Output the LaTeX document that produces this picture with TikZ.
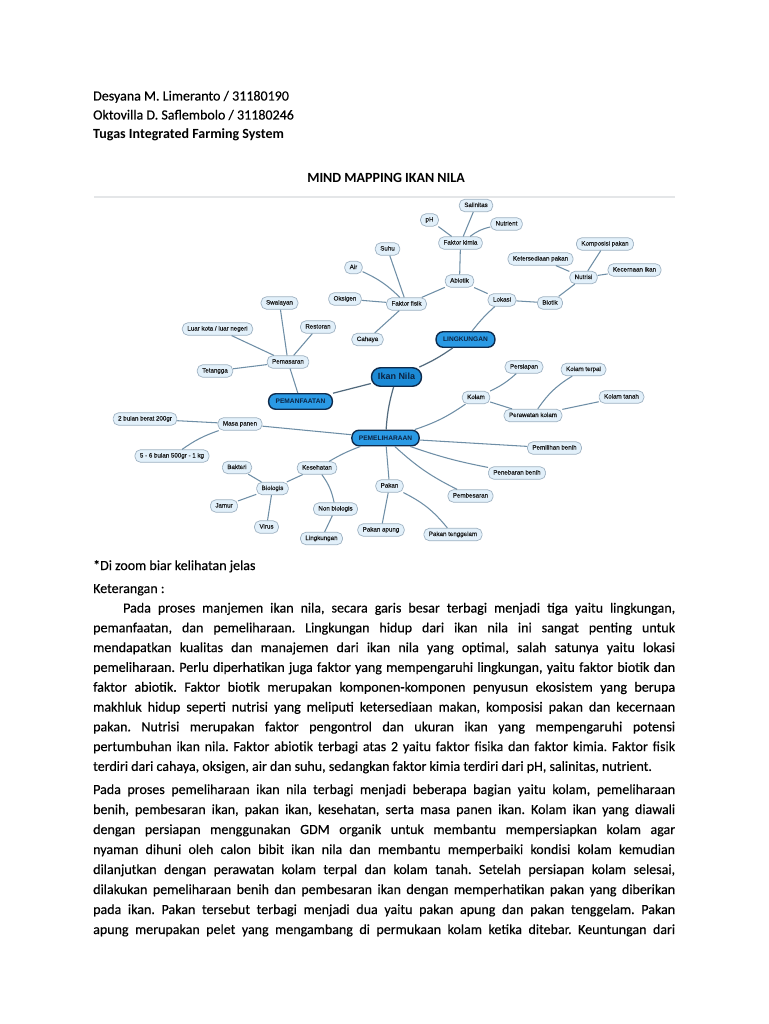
\documentclass[tikz,border=0pt]{standalone}
\usepackage{fontspec}
\setmainfont{Carlito}
\newfontfamily\bodyfont{Carlito}[FakeBold=0.3]
\newfontfamily\mapfont{Liberation Sans}[FakeBold=0.25]
\newfontfamily\mapboldfont{Liberation Sans Bold}
\definecolor{leaffill}{HTML}{E2F0FA}
\definecolor{leafborder}{HTML}{9FB2C2}
\definecolor{linkcol}{HTML}{6E8EA6}
\definecolor{mainfill}{HTML}{2A9AE5}
\definecolor{rootfill}{HTML}{1C8AD6}
\definecolor{mainborder}{HTML}{0F2B4C}
\definecolor{maintext}{HTML}{0B2342}
\definecolor{rulegray}{HTML}{E4E6E8}
\tikzset{
  leaf/.style={draw=leafborder, line width=0.7pt, fill=leaffill, rounded corners=5.5pt,
    font=\mapfont\fontsize{6.2}{7}\selectfont, text=black!90, inner xsep=5pt, inner ysep=0pt,
    minimum height=12.5pt, text height=4.6pt, text depth=1.6pt},
  mainnode/.style={draw=mainborder, line width=1.4pt, fill=mainfill, rounded corners=7pt,
    font=\mapboldfont\fontsize{6.6}{7}\selectfont, text=maintext, inner xsep=7pt, inner ysep=0pt,
    minimum height=15.5pt, text height=4.9pt, text depth=0.8pt},
  rootnode/.style={mainnode, fill=rootfill, rounded corners=9pt, font=\mapboldfont\fontsize{9}{10}\selectfont,
    minimum height=18.5pt, inner xsep=6.5pt, text height=6.6pt, text depth=0.8pt},
  link/.style={draw=linkcol, line width=1.05pt},
  mainlink/.style={draw=linkcol!75!black, line width=1.2pt},
  bodyline/.style={anchor=base west, inner sep=0pt, font=\bodyfont\fontsize{14}{16}\selectfont, text=black},
  boldline/.style={anchor=base west, inner sep=0pt, font=\fontsize{14}{16}\selectfont\bfseries, text=black},
}
\newcommand\jfull[1]{\hbox to 582pt{#1}}
\newcommand\jindent[1]{\hbox to 552pt{#1}}
\begin{document}
\frenchspacing
\begin{tikzpicture}[x=1pt,y=-1pt]
\useasboundingbox[fill=white] (0,0) rectangle (768,1024);

% header
\node[bodyline] (h1) at (93,100.5) {Desyana M. Limeranto / 31180190};
\node[bodyline] (h2) at (93,119.5) {Oktovilla D. Saflembolo / 31180246};
\node[boldline] (h3) at (93,138.5) {Tugas Integrated Farming System};
\node[boldline, anchor=base] (title) at (386,183) {MIND MAPPING IKAN NILA};

% image top rule
\coordinate (ruleL) at (94,197);
\coordinate (ruleR) at (675,197);
\draw[rulegray, line width=1.5pt] (ruleL) -- (ruleR);

% ---------- nodes ----------
\node[rootnode] (root) at (396.5,377) {Ikan Nila};
\node[mainnode] (ling) at (465.5,339.5) {LINGKUNGAN};
\node[mainnode] (pemf) at (300.5,401.5) {PEMANFAATAN};
\node[mainnode] (peml) at (385.5,438) {PEMELIHARAAN};

\node[leaf] (lok) at (502,300) {Lokasi};
\node[leaf] (abio) at (459.5,281) {Abiotik};
\node[leaf] (bio) at (550,303) {Biotik};
\node[leaf] (fk) at (460.5,243) {Faktor kimia};
\node[leaf] (ph) at (429.5,220) {pH};
\node[leaf] (sal) at (476,205.5) {Salinitas};
\node[leaf] (nut) at (506.5,224) {Nutrient};
\node[leaf] (ff) at (406.5,304) {Faktor fisik};
\node[leaf] (suhu) at (387.5,249) {Suhu};
\node[leaf] (air) at (353.5,267.5) {Air};
\node[leaf] (oks) at (345,299) {Oksigen};
\node[leaf] (cah) at (367.5,339.5) {Cahaya};
\node[leaf] (nutr) at (583.5,277.5) {Nutrisi};
\node[leaf] (ket) at (540.5,259) {Ketersediaan pakan};
\node[leaf] (komp) at (605,244) {Komposisi pakan};
\node[leaf] (kec) at (634.5,270) {Kecernaan ikan};

\node[leaf] (pemas) at (288,362) {Pemasaran};
\node[leaf] (swa) at (279.5,303) {Swalayan};
\node[leaf] (luar) at (217.5,329) {Luar kota / luar negeri};
\node[leaf] (rest) at (318,327) {Restoran};
\node[leaf] (tet) at (215,371) {Tetangga};

\node[leaf] (kolam) at (476,397.5) {Kolam};
\node[leaf] (pers) at (524,367) {Persiapan};
\node[leaf] (rawat) at (533,415.5) {Perawatan kolam};
\node[leaf] (terpal) at (583.5,369.5) {Kolam terpal};
\node[leaf] (tanah) at (621.5,397) {Kolam tanah};
\node[leaf] (pilih) at (554.5,448) {Pemilihan benih};
\node[leaf] (tebar) at (517,473) {Penebaran benih};
\node[leaf] (besar) at (470.5,496) {Pembesaran};
\node[leaf] (pakan) at (389.5,486) {Pakan};
\node[leaf] (apung) at (381,530) {Pakan apung};
\node[leaf] (tengg) at (453,534.5) {Pakan tenggelam};
\node[leaf] (panen) at (240,424) {Masa panen};
\node[leaf] (dua) at (145,419) {2 bulan berat 200gr};
\node[leaf] (lima) at (172,456) {5 - 6 bulan 500gr - 1 kg};
\node[leaf] (sehat) at (317,468) {Kesehatan};
\node[leaf] (bakt) at (237,467.5) {Bakteri};
\node[leaf] (biol) at (272.5,488.5) {Biologis};
\node[leaf] (jamur) at (224,506) {Jamur};
\node[leaf] (virus) at (266.5,527) {Virus};
\node[leaf] (nonbio) at (335.5,509) {Non biologis};
\node[leaf] (lingk) at (321.5,538.5) {Lingkungan};

% ---------- connectors ----------
\begin{scope}[on background layer/.style={}]
\draw[mainlink] (root) to[bend right=5] (ling);
\draw[mainlink] (root) -- (pemf);
\draw[mainlink] (root) to[bend right=6] (peml);

\draw[link] (ling) to[bend left=5] (lok);
\draw[link] (lok) -- (abio);
\draw[link] (lok) -- (bio);
\draw[link] (abio) -- (fk);
\draw[link] (abio) -- (ff);
\draw[link] (fk) -- (ph);
\draw[link] (fk) -- (sal);
\draw[link] (fk) to[bend left=12] (nut);
\draw[link] (ff) -- (suhu);
\draw[link] (ff) to[bend right=10] (air);
\draw[link] (ff) -- (oks);
\draw[link] (ff) -- (cah);
\draw[link] (bio) -- (nutr);
\draw[link] (nutr) -- (ket);
\draw[link] (nutr) -- (komp);
\draw[link] (nutr) -- (kec);

\draw[link] (pemf) -- (pemas);
\draw[link] (pemas) -- (swa);
\draw[link] (pemas) -- (luar);
\draw[link] (pemas) -- (rest);
\draw[link] (pemas) -- (tet);

\draw[link] (peml) to[bend right=8] (kolam);
\draw[link] (kolam) to[bend right=8] (pers);
\draw[link] (kolam) -- (rawat);
\draw[link] (rawat) to[bend left=12] (terpal);
\draw[link] (rawat) -- (tanah);
\draw[link] (peml) -- (pilih);
\draw[link] (peml) to[bend right=4] (tebar);
\draw[link] (peml) to[bend right=8] (besar);
\draw[link] (peml) -- (pakan);
\draw[link] (pakan) -- (apung);
\draw[link] (pakan) to[bend left=12] (tengg);
\draw[link] (peml) to[bend right=5] (sehat);
\draw[link] (peml) -- (panen);
\draw[link] (panen) -- (dua);
\draw[link] (panen) to[bend right=8] (lima);
\draw[link] (sehat) -- (biol);
\draw[link] (sehat) to[bend left=12] (nonbio);
\draw[link] (biol) -- (bakt);
\draw[link] (biol) -- (jamur);
\draw[link] (biol) -- (virus);
\draw[link] (nonbio) -- (lingk);
\end{scope}

% ---------- text below ----------
\node[bodyline] (note) at (93,570) {*Di zoom biar kelihatan jelas};
\node[bodyline] (ket0) at (93,593) {Keterangan :};

\node[bodyline] (a1) at (123,612.5) {\jindent{Pada proses manjemen ikan nila, secara garis besar terbagi menjadi tiga yaitu lingkungan,}};
\node[bodyline] (a2) at (93,632.3) {\jfull{pemanfaatan, dan pemeliharaan. Lingkungan hidup dari ikan nila ini sangat penting untuk}};
\node[bodyline] (a3) at (93,652.1) {\jfull{mendapatkan kualitas dan manajemen dari ikan nila yang optimal, salah satunya yaitu lokasi}};
\node[bodyline] (a4) at (93,671.9) {\jfull{pemeliharaan. Perlu diperhatikan juga faktor yang mempengaruhi lingkungan, yaitu faktor biotik dan}};
\node[bodyline] (a5) at (93,691.7) {\jfull{faktor abiotik. Faktor biotik merupakan komponen-komponen penyusun ekosistem yang berupa}};
\node[bodyline] (a6) at (93,711.5) {\jfull{makhluk hidup seperti nutrisi yang meliputi ketersediaan makan, komposisi pakan dan kecernaan}};
\node[bodyline] (a7) at (93,731.3) {\jfull{pakan. Nutrisi merupakan faktor pengontrol dan ukuran ikan yang mempengaruhi potensi}};
\node[bodyline] (a8) at (93,751.1) {\jfull{pertumbuhan ikan nila. Faktor abiotik terbagi atas 2 yaitu faktor fisika dan faktor kimia. Faktor fisik}};
\node[bodyline] (a9) at (93,770.9) {terdiri dari cahaya, oksigen, air dan suhu, sedangkan faktor kimia terdiri dari pH, salinitas, nutrient.};

\node[bodyline] (b1) at (93,794) {\jfull{Pada proses pemeliharaan ikan nila terbagi menjadi beberapa bagian yaitu kolam, pemeliharaan}};
\node[bodyline] (b2) at (93,814) {\jfull{benih, pembesaran ikan, pakan ikan, kesehatan, serta masa panen ikan. Kolam ikan yang diawali}};
\node[bodyline] (b3) at (93,834) {\jfull{dengan persiapan menggunakan GDM organik untuk membantu mempersiapkan kolam agar}};
\node[bodyline] (b4) at (93,854) {\jfull{nyaman dihuni oleh calon bibit ikan nila dan membantu memperbaiki kondisi kolam kemudian}};
\node[bodyline] (b5) at (93,874) {\jfull{dilanjutkan dengan perawatan kolam terpal dan kolam tanah. Setelah persiapan kolam selesai,}};
\node[bodyline] (b6) at (93,894) {\jfull{dilakukan pemeliharaan benih dan pembesaran ikan dengan memperhatikan pakan yang diberikan}};
\node[bodyline] (b7) at (93,914) {\jfull{pada ikan. Pakan tersebut terbagi menjadi dua yaitu pakan apung dan pakan tenggelam. Pakan}};
\node[bodyline] (b8) at (93,934) {\jfull{apung merupakan pelet yang mengambang di permukaan kolam ketika ditebar. Keuntungan dari}};
\end{tikzpicture}
\end{document}
